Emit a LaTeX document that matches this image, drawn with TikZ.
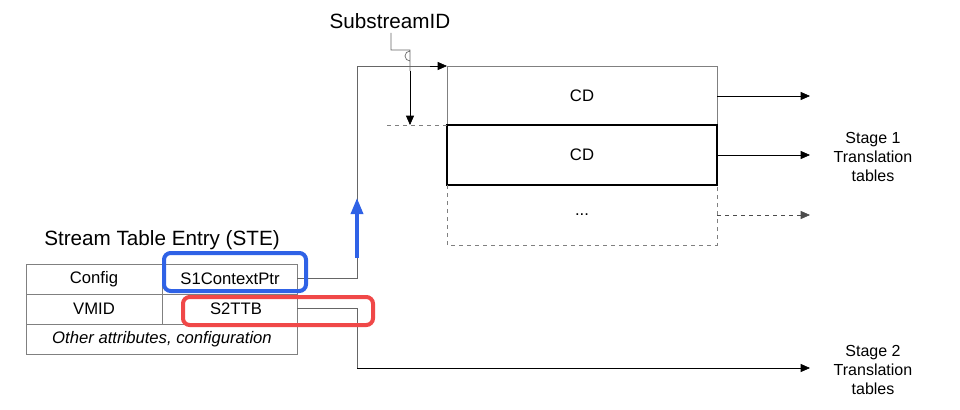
\documentclass[tikz,border=0pt]{standalone}
\usepackage{fontspec}
\setmainfont{Liberation Sans}
\usetikzlibrary{arrows.meta}
\definecolor{hblue}{HTML}{2F62E6}
\definecolor{hred}{HTML}{F04848}
\begin{document}
\begin{tikzpicture}[x=0.75pt,y=-0.75pt,
 ln/.style={draw=black!60,line width=0.5pt},
 ar/.style={ln,-{Triangle[length=7pt,width=6pt]},draw=black},
 cell/.style={draw=black!50,line width=0.5pt},
 t/.style={font=\fontsize{12.5}{14}\selectfont,inner sep=0pt},
 big/.style={font=\fontsize{15.5}{17}\selectfont,inner sep=0pt},
 stg/.style={font=\fontsize{12}{14}\selectfont,inner sep=0pt,align=center},
 hl/.style={line width=3pt,rounded corners=5pt}]
\useasboundingbox (0,0) rectangle (960,410);
% STE table
\node[big] (ste) at (162,240) {Stream Table Entry (STE)};
\draw[cell] (26,264) rectangle (297,354);
\draw[cell] (26,294) -- (297,294) (26,324) -- (297,324) (162,264) -- (162,324);
\node[t] (cfg) at (94,279) {Config};
\node[t] (s1) at (230,279) {S1ContextPtr};
\node[t] (vmid) at (94,309) {VMID};
\node[t] (s2) at (236,309) {S2TTB};
\node[t,font=\fontsize{12.5}{14}\selectfont\itshape] (oth) at (162,339) {Other attributes, configuration};
% CD table
\draw[cell] (447,66) rectangle (717,125);
\node[t] (cd1) at (582,96) {CD};
\draw[line width=1.6pt] (447,125) rectangle (717,185);
\node[t] (cd2) at (582,155) {CD};
\draw[cell,dashed] (447,185) -- (447,245) -- (717,245) -- (717,185);
\node[t] (cd3) at (582,215) {...};
\draw[cell,dashed] (387,125) -- (447,125);
% SubstreamID
\node[big] (sid) at (390,21) {SubstreamID};
\draw[ln] (391,33) -- (391,50) -- (410,50) -- (410,61) arc[start angle=90,end angle=270,radius=5] -- (410,71);
\draw[ar] (410,71) -- (410,125);
% S1 path
\draw[ln] (297,278) -- (357,278) -- (357,66) -- (436,66);
\draw[ar] (430,66) -- (447,66);
\draw[hblue,line width=2.5pt,-{Triangle[length=12pt,width=9pt]}] (357,258) -- (357,198);
% outputs
\draw[ar] (717,96) -- (810,96);
\draw[ar] (717,155) -- (810,155);
\draw[ar,dashed,draw=black!70] (717,215) -- (810,215);
\node[stg] (st1) at (873,157) {Stage 1\\Translation\\tables};
\draw[ln] (297,308) -- (357,308) -- (357,368);
\draw[ar] (357,368) -- (810,368);
\node[stg] (st2) at (873,370) {Stage 2\\Translation\\tables};
% highlights
\draw[hl,draw=hblue] (164,253) rectangle (306,291);
\draw[hl,draw=hred] (183,297) rectangle (373,325);
\end{tikzpicture}
\end{document}
